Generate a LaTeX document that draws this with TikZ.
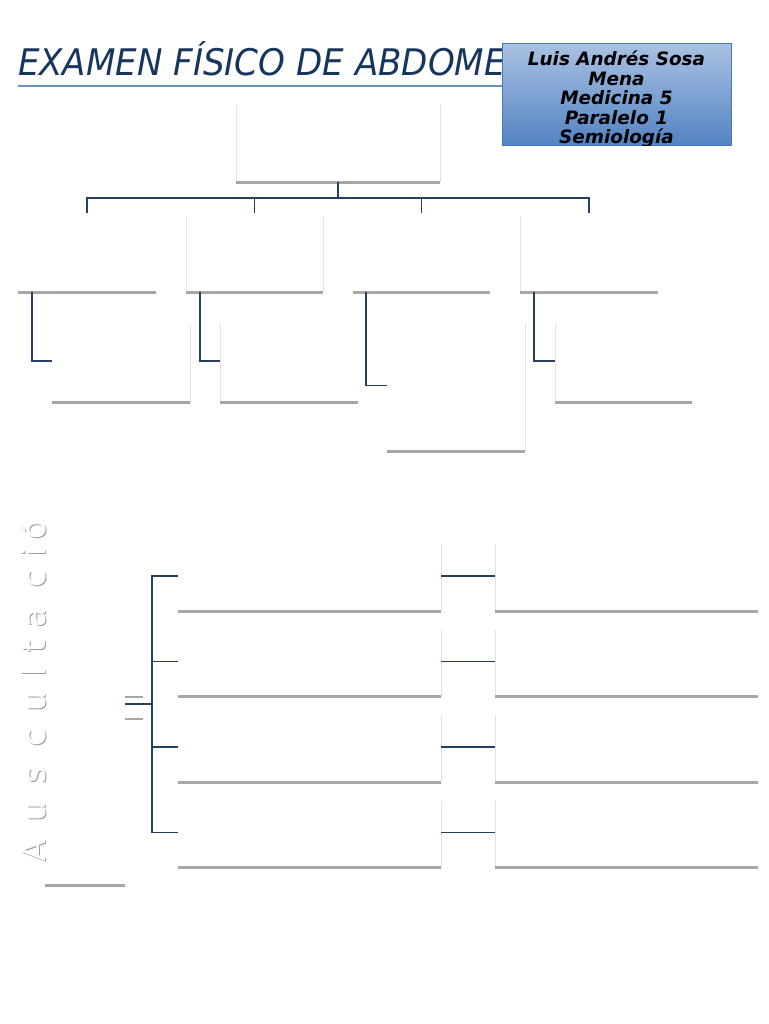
\documentclass[tikz,border=0pt]{standalone}
\usepackage{fontspec}
\setmainfont{DejaVu Sans}
\newfontfamily\titlefont[FakeStretch=0.93]{DejaVu Sans}
\usetikzlibrary{calc,fit}
\definecolor{navy}{HTML}{243F60}
\definecolor{titleblue}{HTML}{17365D}
\definecolor{lineblue}{HTML}{6A8FC0}
\definecolor{barg}{HTML}{A6A6A6}
\definecolor{faintg}{HTML}{E2E2E2}
\definecolor{infotop}{HTML}{A9C1E2}
\definecolor{infobot}{HTML}{5383C3}
\definecolor{infoborder}{HTML}{4A78B4}
\begin{document}
\begin{tikzpicture}[x=0.75pt,y=-0.75pt,
  bar/.style={draw=barg, line width=2.25pt},
  faint/.style={draw=faintg, line width=0.75pt},
  conn/.style={draw=navy, line width=0.9pt},
  blank/.style={inner sep=0pt, outer sep=0pt, draw=none}]
\useasboundingbox[fill=white] (0,0) rectangle (768,1024);

% title
\node[blank, anchor=base west, text=titleblue,
      font=\titlefont\itshape\fontsize{27.5}{30}\selectfont] (title) at (18,75) {EXAMEN FÍSICO DE ABDOMEN};
\draw[draw=lineblue, line width=0.9pt] (18,86) -- (502,86);

% info box
\node[fit={(502,44) (731,145)}, inner sep=0pt, top color=infotop, bottom color=infobot,
      draw=infoborder, line width=0.75pt] (info) {};
\begin{scope}
\clip (info.south west) rectangle (info.north east);
\node[blank, anchor=base, align=center, font=\bfseries\itshape\fontsize{13.8}{14.6}\selectfont]
  (infotext) at (616.5,143.5) {Luis Andrés Sosa\\Mena\\Medicina 5\\Paralelo 1\\Semiología};
\end{scope}

% top tree
\node[fit={(236,105) (440,182)}, blank] (root) {};
\node[fit={(18,213) (156,292)}, blank] (b1) {};
\node[fit={(186,213) (323,292)}, blank] (b2) {};
\node[fit={(353,213) (490,292)}, blank] (b3) {};
\node[fit={(520,213) (658,292)}, blank] (b4) {};
\node[fit={(52,320) (190,402)}, blank] (c1) {};
\node[fit={(220,320) (358,402)}, blank] (c2) {};
\node[fit={(387,320) (525,451)}, blank] (c3) {};
\node[fit={(555,320) (692,402)}, blank] (c4) {};

\draw[faint] (root.north west) -- (root.south west);
\draw[faint] (root.north east) -- (root.south east);
\draw[faint] ($(b2.north west)+(0,3)$) -- (b2.south west);
\draw[faint] ($(b2.north east)+(0,3)$) -- (b2.south east);
\draw[faint] ($(b4.north west)+(0,3)$) -- (b4.south west);
\draw[faint] ($(c1.north east)+(0,5)$) -- (c1.south east);
\draw[faint] ($(c2.north west)+(0,5)$) -- (c2.south west);
\draw[faint] ($(c3.north east)+(0,5)$) -- (c3.south east);
\draw[faint] ($(c4.north west)+(0,5)$) -- (c4.south west);

\foreach \n in {root,b1,b2,b3,b4,c1,c2,c3,c4}
  \draw[bar] (\n.south west) -- (\n.south east);

\coordinate (hub) at (338,198);
\draw[conn] (root.south) -- (hub);
\foreach \n in {b1,b2,b3,b4}
  \draw[conn] (hub) -| (\n.north);
\draw[conn] ($(b1.south west)+(14,0)$) |- (c1.west);
\draw[conn] ($(b2.south west)+(14,0)$) |- (c2.west);
\draw[conn] ($(b3.south west)+(13,0)$) |- (c3.west);
\draw[conn] ($(b4.south west)+(14,0)$) |- (c4.west);

% lower section
\node[fit={(45,523) (125,885)}, blank] (r) {};
\draw[bar] (r.south west) -- (r.south east);
\begin{scope}
\clip (0,515) rectangle (130,890);
\foreach \ch/\yy in {A/852,u/812,s/776,c/739,u/702,l/673,t/647,a/619,c/580,i/553,ó/531,n/503}{
  \node[blank, rotate=90, anchor=base, text=black!38, font=\fontsize{24}{28}\selectfont] at (46.5,\yy) {\ch};
  \node[blank, rotate=90, anchor=base, text=white, font=\fontsize{24}{28}\selectfont] at (45.4,\yy-1.1) {\ch};
}
\end{scope}
\draw[draw=barg, line width=1.5pt] (125,697) -- (143,697);
\draw[draw=barg, line width=1.5pt] (125,719) -- (143,719);

\foreach \i in {0,1,2,3}{
  \pgfmathsetmacro\yc{576+85.5*\i}
  \node[fit={(178,{\yc-35}) (441,{\yc+35})}, blank] (L\i) {};
  \node[fit={(495,{\yc-35}) (758,{\yc+35})}, blank] (R\i) {};
  \draw[faint] ($(L\i.north east)+(0,3)$) -- (L\i.south east);
  \draw[faint] ($(R\i.north west)+(0,3)$) -- (R\i.south west);
  \draw[bar] (L\i.south west) -- (L\i.south east);
  \draw[bar] (R\i.south west) -- (R\i.south east);
  \draw[conn] (L\i.east) -- (R\i.west);
}
\coordinate (br) at (152,704);
\draw[conn] (r.east) -- (br);
\foreach \i in {0,1,2,3}
  \draw[conn] (br) |- (L\i.west);
\end{tikzpicture}
\end{document}
